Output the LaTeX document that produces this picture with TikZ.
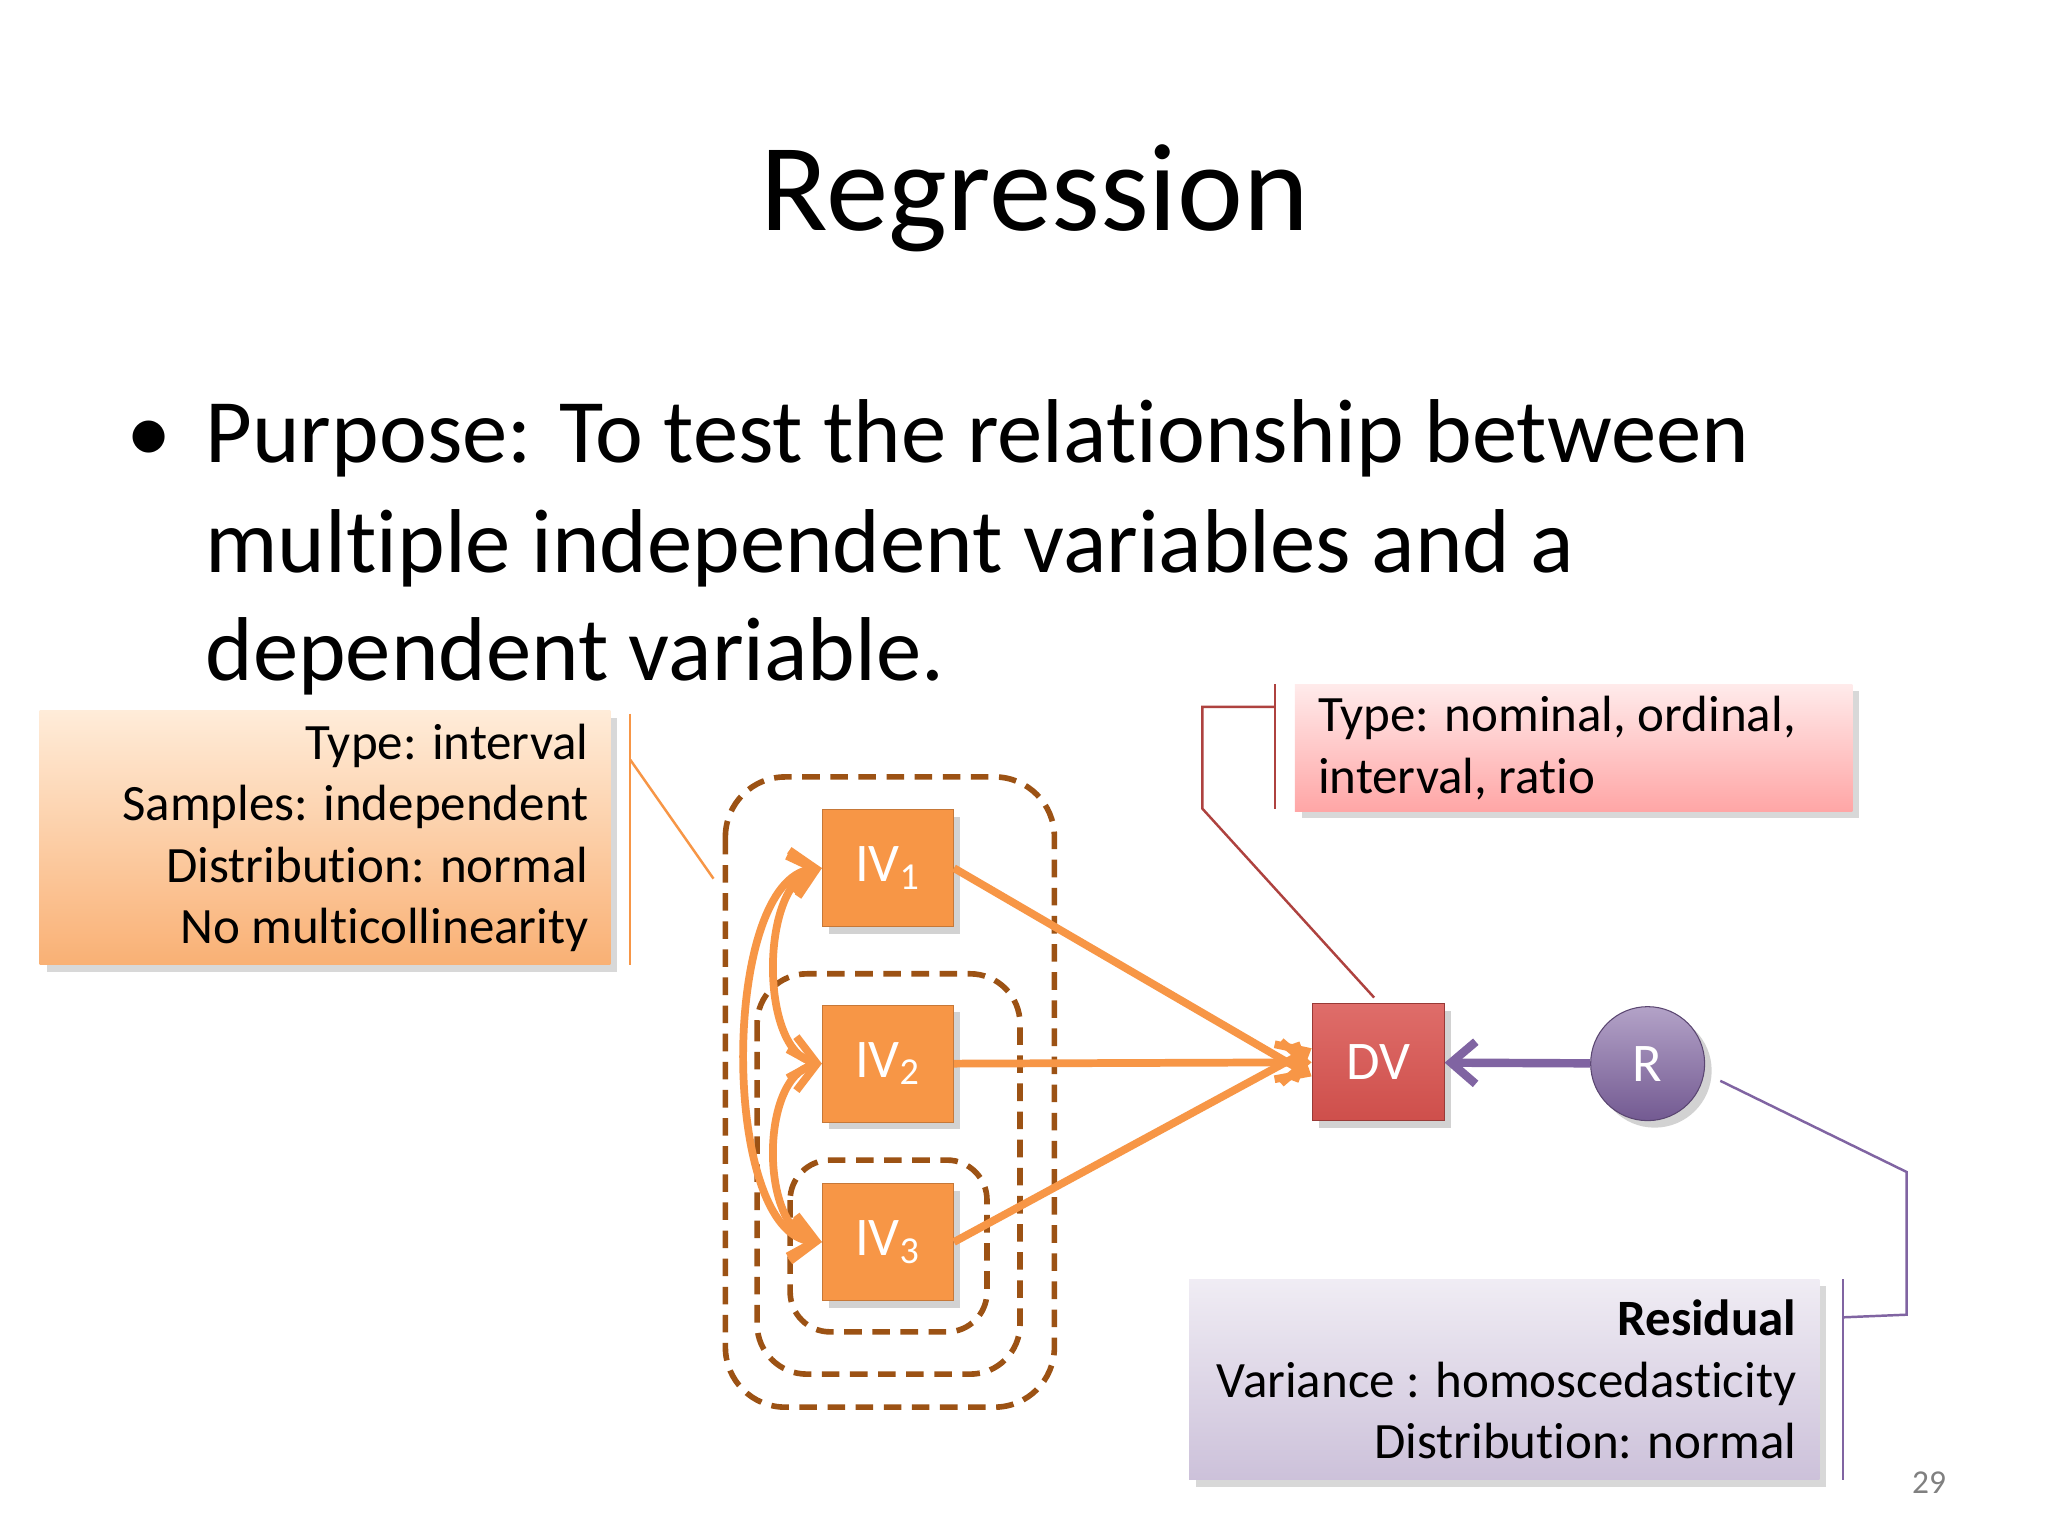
\documentclass[tikz,border=0pt]{standalone}
\usepackage{fontspec}
\setmainfont{Carlito}[Ligatures=NoCommon]
\usetikzlibrary{arrows.meta,shadows}
\definecolor{ivor}{HTML}{F79646}
\definecolor{brn}{HTML}{9C5214}
\definecolor{dvred}{HTML}{D9534F}
\definecolor{rpur}{HTML}{8064A2}
\begin{document}
\begin{tikzpicture}[x=0.013213cm,y=-0.013213cm,
  iv/.style={draw=ivor!80!black,line width=0.3pt,fill=ivor,minimum width=1.31cm,minimum height=1.17cm,text=white,font=\fontsize{15.5}{18}\selectfont,drop shadow={opacity=0.35,shadow xshift=2pt,shadow yshift=-2pt}},
  dsh/.style={draw=brn,line width=1.6pt,dash pattern=on 5pt off 3pt,rounded corners=0.6cm},
  oarr/.style={ivor,line width=2.2pt,-{Straight Barb[length=7pt,width=12pt]}},
  barr/.style={ivor,line width=2.2pt,{Straight Barb[length=7pt,width=12pt]}-{Straight Barb[length=7pt,width=12pt]}},
  bt/.style={font=\fontsize{14.5}{17.5}\selectfont,inner sep=0}]
\useasboundingbox (0,0) rectangle (1550,1162.5);
\fill[white] (0,0) rectangle (1550,1162.5);
\node[font=\fontsize{35.5}{42}\selectfont] (title) at (783,150) {Regression};
\node[anchor=base west,font=\fontsize{25.8}{31}\selectfont,inner sep=0] (b) at (95,350) {•};
\node[anchor=base west,font=\fontsize{25.8}{31}\selectfont,inner sep=0] (l1) at (155,350) {Purpose: To test the relationship between};
\node[anchor=base west,font=\fontsize{25.8}{31}\selectfont,inner sep=0] (l2) at (155,433) {multiple independent variables and a};
\node[anchor=base west,font=\fontsize{25.8}{31}\selectfont,inner sep=0] (l3) at (155,515) {dependent variable.};
% left box
\fill[top color=orange!15,bottom color=ivor!75,drop shadow={opacity=0.3,shadow xshift=2pt,shadow yshift=-2pt}] (30,538) rectangle (462,730);
\node[anchor=east,align=right,bt] (lt) at (446,634) {Type: interval\\Samples: independent\\Distribution: normal\\No multicollinearity};
\draw[ivor,line width=0.7pt] (477,540) -- (477,730);
\coordinate (lc1) at (477,575); \coordinate (lc2) at (540,665);
\draw[ivor,line width=0.7pt] (lc1) -- (lc2);
% dashed
\draw[dsh] (549,588) rectangle (798,1065);
\draw[dsh,rounded corners=0.5cm] (573,737) rectangle (772,1040);
\draw[dsh,rounded corners=0.4cm] (598,878) rectangle (747,1008);
% nodes
\node[iv] (iv1) at (672,657) {IV\textsubscript{1}};
\node[iv] (iv2) at (672,805) {IV\textsubscript{2}};
\node[iv] (iv3) at (672,940) {IV\textsubscript{3}};
\node[draw=dvred!70!black,line width=0.3pt,top color=dvred!85,bottom color=dvred!95!black,minimum width=1.32cm,minimum height=1.17cm,text=white,font=\fontsize{15.5}{18}\selectfont,drop shadow={opacity=0.35,shadow xshift=2pt,shadow yshift=-2pt}] (dv) at (1043,804) {DV};
\node[circle,draw=rpur!70!black,line width=0.3pt,top color=rpur!60,bottom color=rpur!90!black,minimum size=1.14cm,text=white,font=\fontsize{15.5}{18}\selectfont,drop shadow={opacity=0.35,shadow xshift=2pt,shadow yshift=-2pt}] (r) at (1247,805) {R};
\draw[oarr] (iv1.east) -- ([yshift=-4pt]dv.west);
\draw[oarr] (iv2.east) -- (dv.west);
\draw[oarr] (iv3.east) -- ([yshift=4pt]dv.west);
\draw[rpur,line width=2.4pt,-{Straight Barb[length=7pt,width=12pt]}] (r) -- (dv);
\draw[barr] (iv1.west) .. controls (545,665) and (545,935) .. (iv3.west);
\draw[barr] (iv1.west) .. controls (575,670) and (575,795) .. (iv2.west);
\draw[barr] (iv2.west) .. controls (575,815) and (575,930) .. (iv3.west);
% top right box
\fill[top color=red!8,bottom color=red!35,drop shadow={opacity=0.3,shadow xshift=2pt,shadow yshift=-2pt}] (980,518) rectangle (1402,614);
\node[anchor=west,align=left,bt] (tt) at (997,566) {Type: nominal, ordinal,\\interval, ratio};
\draw[dvred!80!black,line width=0.7pt] (965,518) -- (965,612);
\coordinate (tc) at (1040,755);
\draw[dvred!80!black,line width=0.7pt] (965,535) -- (910,535) -- (910,612) -- (tc);
% bottom right
\fill[top color=rpur!12,bottom color=rpur!40,drop shadow={opacity=0.3,shadow xshift=2pt,shadow yshift=-2pt}] (900,968) rectangle (1377,1120);
\node[anchor=east,align=right,bt] (rt) at (1360,1044) {\textbf{Residual}\\Variance : homoscedasticity\\Distribution: normal};
\draw[rpur,line width=0.7pt] (1395,968) -- (1395,1120);
\coordinate (rc) at (1302,818);
\draw[rpur,line width=0.7pt] (1395,997) -- (1443,995) -- (1443,887) -- (rc);
\node[text=gray,font=\fontsize{9.5}{11}\selectfont] (pn) at (1460,1122) {29};
\end{tikzpicture}
\end{document}
